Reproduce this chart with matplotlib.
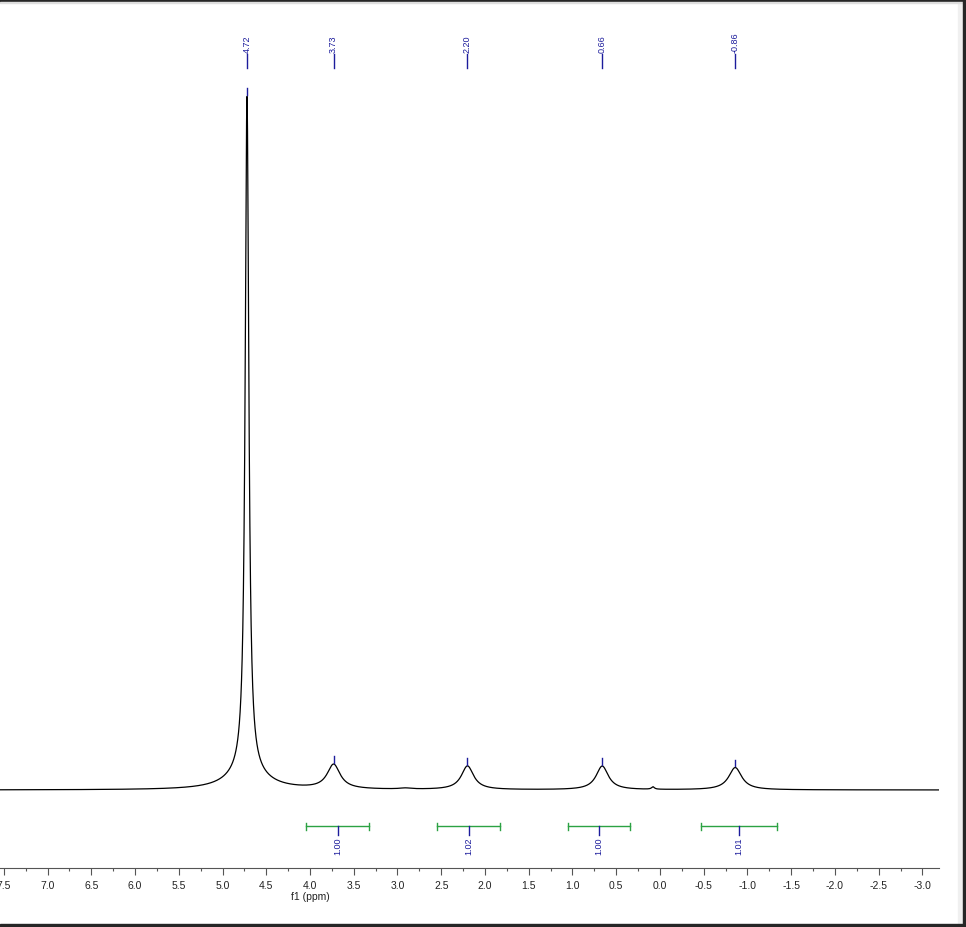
import numpy as np
import matplotlib.pyplot as plt
from matplotlib.patches import Rectangle

plt.rcParams['font.family'] = ['Liberation Sans', 'DejaVu Sans']

# picked peaks (ppm), heights (main peak = 100) and half widths
peak_ppm = [4.72, 3.73, 2.20, 0.66, -0.86]
peak_height = [97.0, 3.5, 3.4, 3.4, 3.2]
peak_hwhm = [0.025, 0.09, 0.085, 0.085, 0.09]
peak_labels = ['4.72', '3.73', '2.20', '0.66', '-0.86']

# broad foot under the big line and two tiny bumps in the baseline
extra_ppm = [4.72, 2.91, 0.08]
extra_height = [2.5, 0.15, 0.35]
extra_hwhm = [0.25, 0.08, 0.02]

# integral regions
int_from = [4.05, 2.545, 1.05, -0.465]
int_to = [3.32, 1.825, 0.343, -1.333]
int_values = ['1.00', '1.02', '1.00', '1.01']

blue = '#1c1c9c'
green = '#2ca243'


def lorentz(x, x0, h, g):
    return h / (1 + ((x - x0) / g) ** 2)


ppm = np.linspace(7.6, -3.2, 6000)
spec = np.zeros_like(ppm)
for p, h, g in zip(peak_ppm + extra_ppm, peak_height + extra_height, peak_hwhm + extra_hwhm):
    spec += lorentz(ppm, p, h, g)

tops = []
for p in peak_ppm:
    tops.append(sum(lorentz(p, q, h, g) for q, h, g in
                    zip(peak_ppm + extra_ppm, peak_height + extra_height, peak_hwhm + extra_hwhm)))

W, H = 966, 928
fig = plt.figure(figsize=(W / 100, H / 100), dpi=100)
ax = fig.add_axes([0, (H - 869) / H, 939 / W, 865 / H])

ax.plot(ppm, spec, color='black', lw=0.9)

px = 6.97  # pixels per intensity unit
ax.set_xlim(7.543, -3.189)
ax.set_ylim(-78 / px, 787 / px)

# peak labels along the top
for p, lab, top in zip(peak_ppm, peak_labels, tops):
    ax.text(p, (791 - 53) / px, lab, rotation=90, ha='center', va='bottom',
            color=blue, fontsize=6.5)
    ax.plot([p, p], [(791 - 55) / px, (791 - 69) / px], color=blue, lw=1.0)
    ax.plot([p, p], [top + 1.2 / px, top + 8 / px], color=blue, lw=1.0)

# integrals under the baseline
yi = (791 - 827) / px
cap = 3.5 / px
for a, b, val in zip(int_from, int_to, int_values):
    ax.plot([a, b], [yi, yi], color=green, lw=1.0)
    ax.plot([a, a], [yi - cap, yi + cap], color=green, lw=1.0)
    ax.plot([b, b], [yi - cap, yi + cap], color=green, lw=1.0)
    m = (a + b) / 2
    ax.plot([m, m], [yi, (791 - 836) / px], color=blue, lw=1.0)
    ax.text(m, (791 - 838) / px, val, rotation=90, ha='center', va='top',
            color=blue, fontsize=6.5)

for s in ['left', 'right', 'top']:
    ax.spines[s].set_visible(False)
ax.spines['bottom'].set_color('#555555')
ax.set_yticks([])
ax.set_xticks(np.arange(-3.0, 7.51, 0.5))
ax.set_xticks(np.arange(-3.0, 7.51, 0.25), minor=True)
ax.xaxis.set_major_formatter(plt.FuncFormatter(lambda v, pos: f'{v:.1f}'))
ax.tick_params(axis='x', which='major', length=5, width=0.8, color='#555555',
               labelsize=7.5, pad=4, labelcolor='#222222')
ax.tick_params(axis='x', which='minor', length=2.5, width=0.8, color='#555555')
ax.text(4.0, -28 / 865, 'f1 (ppm)', transform=ax.get_xaxis_transform(),
        ha='center', va='center', fontsize=7.5, color='#222222')

# window frame of the screenshot
fig.patches.append(Rectangle((0, 1 - 3 / H), 1, 3 / H, transform=fig.transFigure,
                             color='#262626', zorder=10))
fig.patches.append(Rectangle((0, 1 - 4 / H), 1, 1 / H, transform=fig.transFigure,
                             color='#dedede', zorder=10))
fig.patches.append(Rectangle((958 / W, 0), 5 / W, 1, transform=fig.transFigure,
                             color='#f0f0f0', zorder=9))
fig.patches.append(Rectangle((963 / W, 0), 3 / W, 1, transform=fig.transFigure,
                             color='#262626', zorder=10))
fig.patches.append(Rectangle((0, 0), 1, 3 / H, transform=fig.transFigure,
                             color='#262626', zorder=10))

fig.savefig('out.png', dpi=100)
